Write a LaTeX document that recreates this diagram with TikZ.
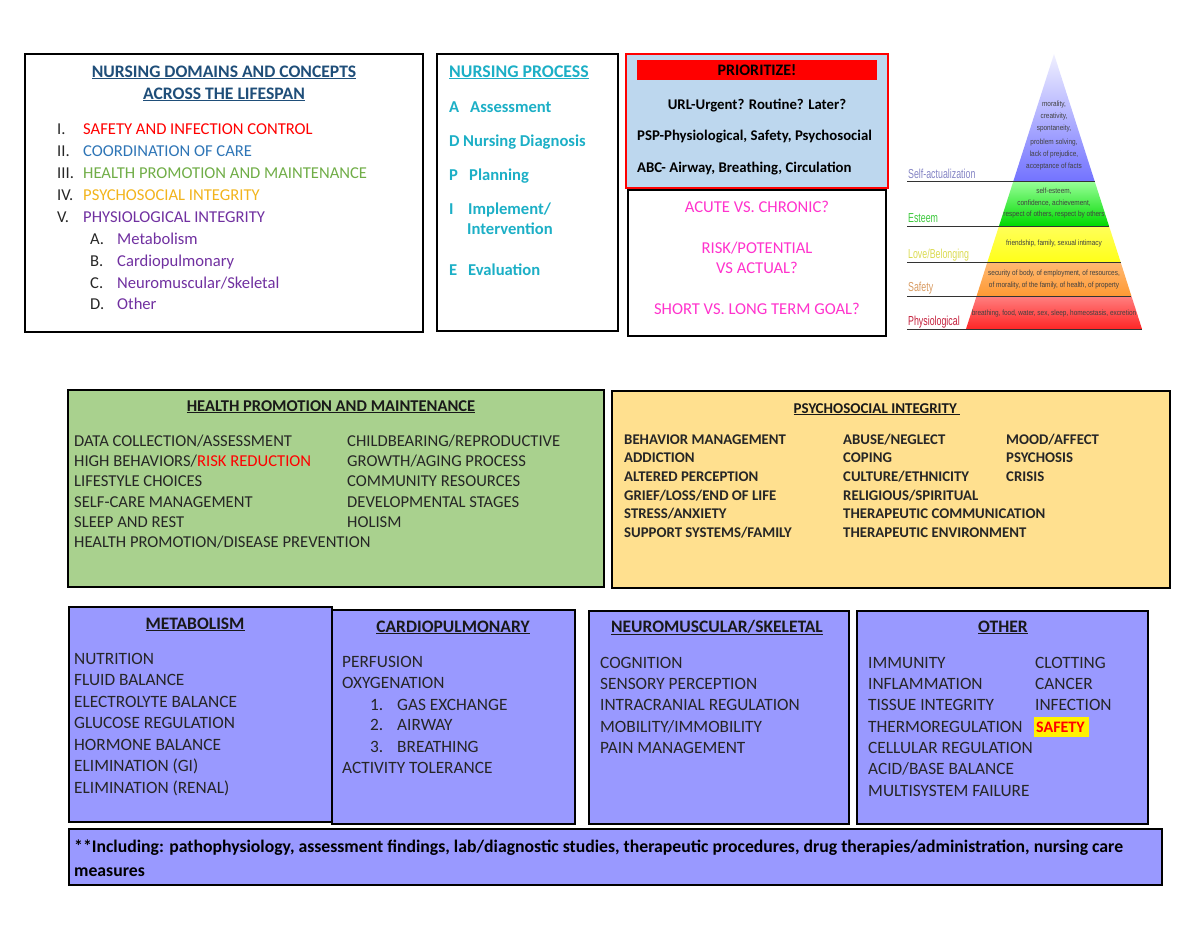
\documentclass[tikz,border=0pt]{standalone}
\usepackage{fontspec}
\setmainfont{Carlito}
\newfontfamily\pyrfont{Liberation Sans}
\definecolor{titleblue}{HTML}{1F4E79}
\definecolor{carebluetxt}{HTML}{2E75B6}
\definecolor{healthgreen}{HTML}{70AD47}
\definecolor{psychgold}{HTML}{F2B41C}
\definecolor{physpurple}{HTML}{7030A0}
\definecolor{processteal}{HTML}{1CAFC6}
\definecolor{goalpink}{HTML}{FF33CC}
\definecolor{prioblue}{HTML}{BDD7EE}
\definecolor{hpmfill}{HTML}{A9D18E}
\definecolor{psyfill}{HTML}{FFE08F}
\definecolor{physfill}{HTML}{9999FF}
\definecolor{lblself}{HTML}{8484C4}
\definecolor{lblesteem}{HTML}{3CC83C}
\definecolor{lbllove}{HTML}{DADA50}
\definecolor{lblsafety}{HTML}{D89A60}
\definecolor{lblphys}{HTML}{C4203C}
\tikzset{
  panel/.style={draw=black,line width=2.2pt},
  line11/.style={anchor=base west,inner sep=0pt,yshift=-5pt,text=black!85,font=\fontsize{17.3}{19}\selectfont},
  head11/.style={anchor=base,inner sep=0pt,yshift=-5pt,text=black!90,font=\fontsize{17.5}{19}\selectfont\bfseries},
  small11/.style={line11,font=\fontsize{16.6}{18}\selectfont},
  psyline/.style={line11,font=\fontsize{14.8}{18}\selectfont\bfseries},
  procline/.style={line11,text=processteal,font=\fontsize{16.6}{18}\selectfont\bfseries},
  goalline/.style={anchor=base,inner sep=0pt,yshift=-5pt,text=goalpink,font=\fontsize{16.6}{18}\selectfont},
  prioline/.style={anchor=base west,inner sep=0pt,yshift=-5pt,text=black,font=\fontsize{14.8}{18}\selectfont\bfseries},
  pyrtext/.style={anchor=center,inner sep=0pt,text=black!75,xscale=.85,transform shape,font=\fontsize{7.6}{9}\selectfont\pyrfont},
  pyrlabel/.style={anchor=base west,inner sep=0pt,xscale=.68,transform shape,font=\fontsize{13}{15}\selectfont\pyrfont},
}
\begin{document}
\begin{tikzpicture}[x=1pt,y=-1pt]
\useasboundingbox (0,0) rectangle (1200,927);

% Drawing domains panel
\draw [panel] (25,54) rectangle (423,332);%
\draw (224,72) node (domainsA) [head11,text=titleblue,font=\fontsize{17.6}{19}\selectfont\bfseries] { \underline{NURSING DOMAINS AND CONCEPTS} };%
\draw (224,94) node (domainsB) [head11,text=titleblue,font=\fontsize{17.6}{19}\selectfont\bfseries] { \underline{ACROSS THE LIFESPAN} };%

% Marking domain list
\draw (57,129) node (numI) [small11] { I. };%
\draw (83,129) node (domI) [small11,text=red] { SAFETY AND INFECTION CONTROL };%
\draw (57,151) node (numII) [small11] { II. };%
\draw (83,151) node (domII) [small11,text=carebluetxt] { COORDINATION OF CARE };%
\draw (57,173.5) node (numIII) [small11] { III. };%
\draw (83,173.5) node (domIII) [small11,text=healthgreen] { HEALTH PROMOTION AND MAINTENANCE };%
\draw (57,195.5) node (numIV) [small11] { IV. };%
\draw (83,195.5) node (domIV) [small11,text=psychgold] { PSYCHOSOCIAL INTEGRITY };%
\draw (57,217) node (numV) [small11] { V. };%
\draw (83,217) node (domV) [small11,text=physpurple] { PHYSIOLOGICAL INTEGRITY };%
\draw (90,239) node (numA) [small11] { A. };%
\draw (117,239) node (subA) [small11,text=physpurple] { Metabolism };%
\draw (90,261) node (numB) [small11] { B. };%
\draw (117,261) node (subB) [small11,text=physpurple] { Cardiopulmonary };%
\draw (90,283) node (numC) [small11] { C. };%
\draw (117,283) node (subC) [small11,text=physpurple] { Neuromuscular/Skeletal };%
\draw (90,304) node (numD) [small11] { D. };%
\draw (117,304) node (subD) [small11,text=physpurple] { Other };%

% Drawing process panel
\draw [panel] (437,54) rectangle (618,331);%
\draw (449,72) node (procTitle) [procline,font=\fontsize{17.8}{20}\selectfont\bfseries] { \underline{NURSING PROCESS} };%
\draw (449,107) node (procA) [procline] { A };%
\draw (470,107) node (procAtxt) [procline] { Assessment };%
\draw (449,141) node (procD) [procline] { D };%
\draw (463,141) node (procDtxt) [procline] { Nursing Diagnosis };%
\draw (449,175) node (procP) [procline] { P };%
\draw (469,175) node (procPtxt) [procline] { Planning };%
\draw (449,209) node (procI) [procline] { I };%
\draw (468,209) node (procItxt) [procline] { Implement/ };%
\draw (467,229) node (procItxtb) [procline] { Intervention };%
\draw (449,270) node (procE) [procline] { E };%
\draw (468,270) node (procEtxt) [procline] { Evaluation };%

% Drawing prioritize panel
\draw [draw=red,fill=prioblue,line width=2.2pt] (626,54) rectangle (888,188);%
\draw [fill=red,draw=none] (637,60) rectangle (877,80);%
\draw (757,70) node (prioTitle) [head11,text=black,font=\fontsize{16}{18}\selectfont\bfseries] { PRIORITIZE! };%
\draw (757,104) node (prioURL) [head11,text=black,font=\fontsize{14.8}{18}\selectfont\bfseries] { URL-Urgent? Routine? Later? };%
\draw (637,135) node (prioPSP) [prioline] { PSP-Physiological, Safety, Psychosocial };%
\draw (637,167) node (prioABC) [prioline] { ABC- Airway, Breathing, Circulation };%

% Drawing goals panel
\draw [panel] (628,190) rectangle (886,336);%
\draw (757,207) node (goalA) [goalline] { ACUTE VS. CHRONIC? };%
\draw (757,248) node (goalB) [goalline] { RISK/POTENTIAL };%
\draw (757,268) node (goalC) [goalline] { VS ACTUAL? };%
\draw (757,309) node (goalD) [goalline] { SHORT VS. LONG TERM GOAL? };%

% Drawing pyramid bands
\shade [top color=blue!6,bottom color=blue!55] (1054,54) -- (1094.6,181) -- (1013.4,181) -- cycle;%
\shade [top color=green!40,bottom color=green!85!black] (1013.4,181) -- (1094.6,181) -- (1109,226) -- (999,226) -- cycle;%
\shade [top color=yellow!65,bottom color=yellow!90] (999,226) -- (1109,226) -- (1120.6,262) -- (987.4,262) -- cycle;%
\shade [top color=orange!55,bottom color=orange!80] (987.4,262) -- (1120.6,262) -- (1131.4,296) -- (976.6,296) -- cycle;%
\shade [top color=red!50,bottom color=red!85] (976.6,296) -- (1131.4,296) -- (1142,329) -- (966,329) -- cycle;%

% Drawing pyramid rules
\draw [line width=1pt,black!80] (907,181) -- (1094.6,181);%
\draw [line width=1pt,black!80] (907,226) -- (1109,226);%
\draw [line width=1pt,black!80] (907,262) -- (1120.6,262);%
\draw [line width=1pt,black!80] (907,296) -- (1131.4,296);%
\draw [line width=1pt,black!80] (907,329) -- (1142,329);%

% Marking pyramid labels
\draw (908,178) node (lblSelf) [pyrlabel,text=lblself] { Self-actualization };%
\draw (908,222) node (lblEsteem) [pyrlabel,text=lblesteem] { Esteem };%
\draw (908,258) node (lblLove) [pyrlabel,text=lbllove] { Love/Belonging };%
\draw (908,291) node (lblSafety) [pyrlabel,text=lblsafety] { Safety };%
\draw (908,325) node (lblPhys) [pyrlabel,text=lblphys] { Physiological };%

% Marking pyramid texts
\draw (1054,105) node (pyrA) [pyrtext] { morality, };%
\draw (1054,117) node (pyrB) [pyrtext] { creativity, };%
\draw (1054,129) node (pyrC) [pyrtext] { spontaneity, };%
\draw (1054,143) node (pyrD) [pyrtext] { problem solving, };%
\draw (1054,155) node (pyrE) [pyrtext] { lack of prejudice, };%
\draw (1054,167) node (pyrF) [pyrtext] { acceptance of facts };%
\draw (1054,191) node (pyrG) [pyrtext] { self-esteem, };%
\draw (1054,203) node (pyrH) [pyrtext] { confidence, achievement, };%
\draw (1054,215) node (pyrI) [pyrtext] { respect of others, respect by others };%
\draw (1054,244) node (pyrJ) [pyrtext] { friendship, family, sexual intimacy };%
\draw (1054,274) node (pyrK) [pyrtext] { security of body, of employment, of resources, };%
\draw (1054,286) node (pyrL) [pyrtext] { of morality, of the family, of health, of property };%
\draw (1054,314) node (pyrM) [pyrtext] { breathing, food, water, sex, sleep, homeostasis, excretion };%

% Drawing health promotion panel
\draw [panel,fill=hpmfill] (68,390) rectangle (604,587);%
\draw (331,406) node (hpmTitle) [head11,font=\fontsize{16.5}{18}\selectfont\bfseries] { \underline{HEALTH PROMOTION AND MAINTENANCE} };%
\draw (74,441) node (hpmA) [small11] { DATA COLLECTION/ASSESSMENT };%
\draw (74,461) node (hpmB) [small11] { HIGH BEHAVIORS/\textcolor{red}{RISK REDUCTION} };%
\draw (74,481) node (hpmC) [small11] { LIFESTYLE CHOICES };%
\draw (74,502) node (hpmD) [small11] { SELF-CARE MANAGEMENT };%
\draw (74,522) node (hpmE) [small11] { SLEEP AND REST };%
\draw (74,542) node (hpmF) [small11] { HEALTH PROMOTION/DISEASE PREVENTION };%
\draw (347,441) node (hpmG) [small11] { CHILDBEARING/REPRODUCTIVE };%
\draw (347,461) node (hpmH) [small11] { GROWTH/AGING PROCESS };%
\draw (347,481) node (hpmI) [small11] { COMMUNITY RESOURCES };%
\draw (347,502) node (hpmJ) [small11] { DEVELOPMENTAL STAGES };%
\draw (347,522) node (hpmK) [small11] { HOLISM };%

% Drawing psychosocial panel
\draw [panel,fill=psyfill] (612,391) rectangle (1170,588);%
\draw (877,408) node (psyTitle) [head11,font=\fontsize{15}{18}\selectfont\bfseries] { \underline{PSYCHOSOCIAL INTEGRITY\ } };%
\draw (624,439) node (psyA) [psyline] { BEHAVIOR MANAGEMENT };%
\draw (624,457) node (psyB) [psyline] { ADDICTION };%
\draw (624,476) node (psyC) [psyline] { ALTERED PERCEPTION };%
\draw (624,495) node (psyD) [psyline] { GRIEF/LOSS/END OF LIFE };%
\draw (624,513) node (psyE) [psyline] { STRESS/ANXIETY };%
\draw (624,532) node (psyF) [psyline] { SUPPORT SYSTEMS/FAMILY };%
\draw (843,439) node (psyG) [psyline] { ABUSE/NEGLECT };%
\draw (843,457) node (psyH) [psyline] { COPING };%
\draw (843,476) node (psyI) [psyline] { CULTURE/ETHNICITY };%
\draw (843,495) node (psyJ) [psyline] { RELIGIOUS/SPIRITUAL };%
\draw (843,513) node (psyK) [psyline] { THERAPEUTIC COMMUNICATION };%
\draw (843,532) node (psyL) [psyline] { THERAPEUTIC ENVIRONMENT };%
\draw (1006,439) node (psyM) [psyline] { MOOD/AFFECT };%
\draw (1006,457) node (psyN) [psyline] { PSYCHOSIS };%
\draw (1006,476) node (psyO) [psyline] { CRISIS };%

% Drawing cardiopulmonary panel
\draw [panel,fill=physfill] (332,610) rectangle (575,824);%
\draw (453,627) node (cardTitle) [head11] { \underline{CARDIOPULMONARY} };%
\draw (342,662) node (cardA) [line11] { PERFUSION };%
\draw (342,683) node (cardB) [line11] { OXYGENATION };%
\draw (370,705) node (cardNumA) [line11] { 1. };%
\draw (397,705) node (cardC) [line11] { GAS EXCHANGE };%
\draw (370,725) node (cardNumB) [line11] { 2. };%
\draw (397,725) node (cardD) [line11] { AIRWAY };%
\draw (370,747) node (cardNumC) [line11] { 3. };%
\draw (397,747) node (cardE) [line11] { BREATHING };%
\draw (342,768) node (cardF) [line11] { ACTIVITY TOLERANCE };%

% Drawing metabolism panel
\draw [panel,fill=physfill] (69,607) rectangle (332,822);%
\draw (195,624) node (metaTitle) [head11] { \underline{METABOLISM} };%
\draw (74,659) node (metaA) [line11] { NUTRITION };%
\draw (74,680) node (metaB) [line11] { FLUID BALANCE };%
\draw (74,702) node (metaC) [line11] { ELECTROLYTE BALANCE };%
\draw (74,723) node (metaD) [line11] { GLUCOSE REGULATION };%
\draw (74,745) node (metaE) [line11] { HORMONE BALANCE };%
\draw (74,766) node (metaF) [line11] { ELIMINATION (GI) };%
\draw (74,788) node (metaG) [line11] { ELIMINATION (RENAL) };%

% Drawing neuromuscular panel
\draw [panel,fill=physfill] (589,611) rectangle (849,824);%
\draw (717,627) node (neuroTitle) [head11] { \underline{NEUROMUSCULAR/SKELETAL} };%
\draw (600,663) node (neuroA) [line11] { COGNITION };%
\draw (600,684) node (neuroB) [line11] { SENSORY PERCEPTION };%
\draw (600,705) node (neuroC) [line11] { INTRACRANIAL REGULATION };%
\draw (600,727) node (neuroD) [line11] { MOBILITY/IMMOBILITY };%
\draw (600,748) node (neuroE) [line11] { PAIN MANAGEMENT };%

% Drawing other panel
\draw [panel,fill=physfill] (857,611) rectangle (1148,824);%
\draw (1003,627) node (otherTitle) [head11] { \underline{OTHER} };%
\draw (868,663) node (otherA) [line11] { IMMUNITY };%
\draw (868,684) node (otherB) [line11] { INFLAMMATION };%
\draw (868,705) node (otherC) [line11] { TISSUE INTEGRITY };%
\draw (868,727) node (otherD) [line11] { THERMOREGULATION };%
\draw (868,748) node (otherE) [line11] { CELLULAR REGULATION };%
\draw (868,769) node (otherF) [line11] { ACID/BASE BALANCE };%
\draw (868,791) node (otherG) [line11] { MULTISYSTEM FAILURE };%
\draw (1035,663) node (otherH) [line11] { CLOTTING };%
\draw (1035,684) node (otherI) [line11] { CANCER };%
\draw (1035,705) node (otherJ) [line11] { INFECTION };%
\draw [fill=yellow,draw=none] (1034,717) rectangle (1089,737);%
\draw (1036,727) node (otherK) [line11,text=red,font=\fontsize{16}{19}\selectfont\bfseries] { SAFETY };%

% Drawing footnote panel
\draw [panel,fill=physfill] (69,829) rectangle (1162,885);%
\draw (74,847) node (noteA) [line11,text=black,font=\fontsize{17.7}{19}\selectfont\bfseries] { **Including: pathophysiology, assessment findings, lab/diagnostic studies, therapeutic procedures, drug therapies/administration, nursing care };%
\draw (74,871) node (noteB) [line11,text=black,font=\fontsize{17.7}{19}\selectfont\bfseries] { measures };%
\end{tikzpicture}
\end{document}
